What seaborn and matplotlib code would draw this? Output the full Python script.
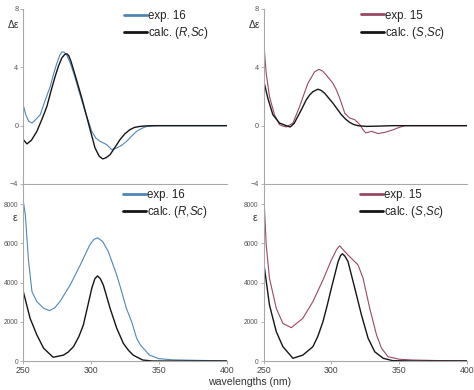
import numpy as np
import pandas as pd
import seaborn as sns
import matplotlib.pyplot as plt
from matplotlib.lines import Line2D

sns.set_style('white')
plt.rcParams['font.family'] = ['Liberation Sans', 'DejaVu Sans']
plt.rcParams['mathtext.fontset'] = 'custom'
plt.rcParams['mathtext.rm'] = 'Liberation Sans'
plt.rcParams['mathtext.it'] = 'Liberation Sans:italic'

# CD spectra (delta epsilon)
cd16_exp_wl = [250, 252, 254, 256.4, 259, 262.5, 266, 269.9, 272.5, 274.8, 277, 278.4, 280, 282, 284.6, 287.5,
               290.7, 295.6, 300.5, 303.5, 306.6, 311.5, 315.2, 318.9, 322.5, 326.2, 330, 333.6, 337, 341, 345,
               350, 360, 380, 400]
cd16_exp = [1.4, 0.7, 0.3, 0.18, 0.4, 0.75, 1.7, 2.7, 3.6, 4.3, 4.85, 5.05, 5.05, 4.85, 4.3, 3.5,
            2.47, 0.98, -0.39, -0.85, -1.07, -1.3, -1.64, -1.53, -1.35, -1.07, -0.7, -0.39, -0.2, -0.05, -0.02,
            0, 0, 0, 0]
cd16_calc_wl = [250, 252.7, 256, 260, 264, 267.4, 270.5, 273.5, 276, 278.4, 280.5, 282.1, 283.5, 285, 287, 290,
                293.1, 298, 302.9, 306, 308.6, 311, 314, 317.5, 321.3, 325, 328.7, 332, 336, 340, 345, 360,
                380, 400]
cd16_calc = [-0.96, -1.25, -1.0, -0.39, 0.5, 1.32, 2.4, 3.38, 4.1, 4.64, 4.88, 4.93, 4.8, 4.45, 3.84, 2.9,
             1.9, 0.18, -1.53, -2.1, -2.28, -2.2, -1.99, -1.5, -0.96, -0.55, -0.27, -0.12, -0.05, -0.02, 0, 0,
             0, 0]

cd15_exp_wl = [250, 252, 254.4, 258.1, 261.8, 264, 266.8, 271.7, 276.6, 282.7, 287.7, 290.9, 293.5, 296.3,
               301.2, 303.5, 306.2, 309.9, 313.6, 317.3, 321, 323.5, 325.4, 329.6, 334.5, 339.4, 345, 350, 354,
               360, 380, 400]
cd15_exp = [5.9, 3.58, 2.0, 0.75, 0.07, -0.02, -0.09, 0.18, 1.31, 2.9, 3.7, 3.86, 3.75, 3.47,
            2.9, 2.5, 1.88, 0.86, 0.52, 0.41, 0.07, -0.3, -0.5, -0.39, -0.54, -0.46, -0.3, -0.12, 0,
            0, 0, 0]
cd15_calc_wl = [250, 253.2, 256.9, 261.8, 266.8, 269.7, 272.5, 275.3, 278.5, 281.5, 284, 286.4, 290.1, 292.5,
                295.1, 298, 301.2, 304.5, 307.4, 310.5, 313.6, 316.5, 319.7, 325.8, 335, 345, 360, 380, 400]
cd15_calc = [3.13, 1.88, 0.75, 0.18, 0.0, -0.09, 0.15, 0.63, 1.2, 1.77, 2.1, 2.33, 2.5, 2.42,
             2.22, 1.9, 1.54, 1.12, 0.75, 0.45, 0.22, 0.08, 0.0, -0.05, -0.03, 0, 0, 0, 0]

# UV spectra (epsilon)
uv16_exp_wl = [250, 251.5, 253.9, 256.4, 260, 265, 269.3, 273, 277, 284.6, 292, 299, 302, 304.7, 308.5, 312.7,
               318.9, 322.5, 326, 329.9, 333.6, 336.5, 339.7, 343, 350, 360, 380, 400]
uv16_exp = [8150, 7450, 5070, 3540, 3030, 2690, 2570, 2700, 3030, 3880, 4900, 5920, 6200, 6290, 6100, 5580,
            4390, 3550, 2690, 2000, 1160, 800, 560, 300, 120, 60, 30, 10]
uv16_calc_wl = [250, 255, 260, 265, 272, 279.6, 283, 287, 291, 294.3, 297.5, 300.5, 302.8, 304.7, 306.8, 309,
                314, 318.9, 323.8, 327.5, 331, 338, 345, 360, 400]
uv16_calc = [3540, 2180, 1330, 650, 190, 300, 450, 730, 1250, 1840, 2800, 3710, 4200, 4340, 4200, 3880,
             2690, 1670, 900, 550, 300, 50, 0, 0, 0]

uv15_exp_wl = [250, 252, 254.4, 259.4, 264.3, 270.5, 279, 286.4, 293.8, 300, 304, 306.2, 309, 312.3, 319.7,
               323.4, 328.3, 333.3, 337, 341.8, 350, 360, 380, 400]
uv15_exp = [8830, 5920, 4220, 2690, 1920, 1700, 2180, 3030, 4130, 5150, 5700, 5880, 5650, 5410, 4900,
            4220, 2690, 1330, 650, 220, 90, 50, 20, 10]
uv15_calc_wl = [250, 254.4, 259.4, 264.3, 271.7, 279, 286.4, 290, 293.8, 297, 300, 305, 306.8, 308.1, 310,
                312.3, 317.3, 322.2, 327.1, 332, 338.2, 345, 360, 400]
uv15_calc = [5100, 2860, 1500, 730, 140, 300, 730, 1250, 2000, 2850, 3710, 5070, 5380, 5470, 5350,
             5070, 3710, 2350, 1160, 470, 140, 20, 0, 0]

blue = '#4f86b8'
maroon = '#9a4862'
black = '#151515'
grey = '#a8a8a8'

W, H = 474, 390
fig = plt.figure(figsize=(W / 100, H / 100), dpi=100)

def px(x0, y0, x1, y1):
    return [x0 / W, 1 - y1 / H, (x1 - x0) / W, (y1 - y0) / H]

ax_cd16 = fig.add_axes(px(23.3, 9, 226.7, 184))
ax_cd15 = fig.add_axes(px(263.5, 9, 467, 184))
ax_uv16 = fig.add_axes(px(23.3, 184.6, 226.7, 361))
ax_uv15 = fig.add_axes(px(263.5, 184.6, 467, 361))


def panel(ax, ex_wl, ex, ca_wl, ca, col, lab_exp, lab_calc, kind, leg_x, leg_y):
    sns.lineplot(x=ex_wl, y=ex, ax=ax, color=col, lw=0.8, sort=False)
    sns.lineplot(x=ca_wl, y=ca, ax=ax, color=black, lw=1.0, sort=False)
    ax.set_xlim(250, 400)
    for s in ['top', 'right']:
        ax.spines[s].set_visible(False)
    for s in ['left', 'bottom']:
        ax.spines[s].set_color(grey)
        ax.spines[s].set_linewidth(0.8)
    ax.tick_params(axis='both', colors=grey, length=2, width=0.6, direction='out', pad=1.5,
                   left=True, bottom=(kind == 'uv'))
    if kind == 'cd':
        ax.set_ylim(-4, 8)
        ax.set_yticks([-4, 0, 4, 8])
        ax.set_xticks([])
        ax.tick_params(axis='y', labelsize=5.2, labelcolor='#555555')
    else:
        ax.set_ylim(0, 9000)
        ax.set_yticks([0, 2000, 4000, 6000, 8000])
        ax.set_xticks([250, 300, 350, 400])
        ax.tick_params(axis='y', labelsize=4.8, labelcolor='#555555')
        ax.tick_params(axis='x', labelsize=6.3, labelcolor='#444444')
    ax.set_xlabel('')
    ax.set_ylabel('')
    handles = [Line2D([], [], color=col, lw=2), Line2D([], [], color=black, lw=2)]
    ax.legend(handles, [lab_exp, lab_calc], loc='upper left', bbox_to_anchor=(leg_x, leg_y),
              frameon=False, fontsize=8.3, handlelength=2.0, handletextpad=0.1,
              labelspacing=0.3, borderpad=0, borderaxespad=0, labelcolor='#222222')


calc_r = 'calc. ($\\mathit{R}$,$\\mathit{Sc}$)'
calc_s = 'calc. ($\\mathit{S}$,$\\mathit{Sc}$)'
panel(ax_cd16, cd16_exp_wl, cd16_exp, cd16_calc_wl, cd16_calc, blue, 'exp. 16', calc_r, 'cd', 0.495, 0.995)
panel(ax_cd15, cd15_exp_wl, cd15_exp, cd15_calc_wl, cd15_calc, maroon, 'exp. 15', calc_s, 'cd', 0.478, 0.997)
panel(ax_uv16, uv16_exp_wl, uv16_exp, uv16_calc_wl, uv16_calc, blue, 'exp. 16', calc_r, 'uv', 0.49, 0.975)
panel(ax_uv15, uv15_exp_wl, uv15_exp, uv15_calc_wl, uv15_calc, maroon, 'exp. 15', calc_s, 'uv', 0.474, 0.975)

fig.text(14 / W, 1 - 25 / H, 'Δε', fontsize=7.5, color='#333333', ha='center', va='center')
fig.text(254.5 / W, 1 - 25 / H, 'Δε', fontsize=7.5, color='#333333', ha='center', va='center')
fig.text(14.5 / W, 1 - 218 / H, 'ε', fontsize=7.5, color='#333333', ha='center', va='center')
fig.text(255 / W, 1 - 218 / H, 'ε', fontsize=7.5, color='#333333', ha='center', va='center')
fig.text(250 / W, 1 - 382 / H, 'wavelengths (nm)', fontsize=7.6, color='#333333', ha='center', va='center')

fig.savefig('out.png', dpi=100)
